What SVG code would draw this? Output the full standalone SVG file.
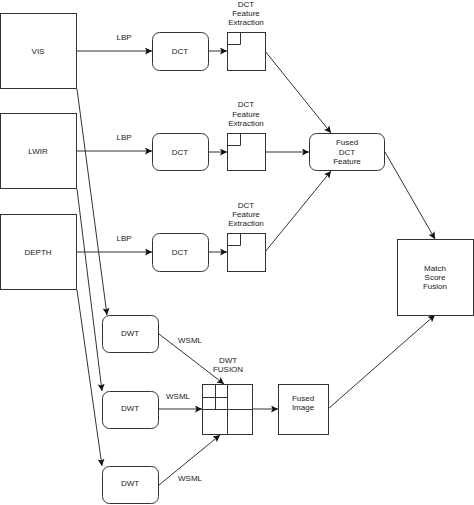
<svg xmlns="http://www.w3.org/2000/svg" width="474" height="505" viewBox="0 0 474 505">
<style>
  .box{fill:#fff;stroke:#333;stroke-width:1}
  .ln{fill:none;stroke:#333;stroke-width:1}
  .t{font-family:"Liberation Sans",Arial,sans-serif;font-size:8px;fill:#222;text-anchor:middle}
</style>
<defs>
  <marker id="ah" markerUnits="userSpaceOnUse" markerWidth="8" markerHeight="8" refX="7" refY="3.5" orient="auto">
    <path d="M0,0 L7,3.5 L0,7 L1.5,3.5 z" fill="#111"/>
  </marker>
</defs>
<rect width="474" height="505" fill="#fff"/>

<g id="connectors">
  <line class="ln" x1="77" y1="51" x2="152" y2="51" marker-end="url(#ah)"/>
  <line class="ln" x1="77" y1="151" x2="152" y2="151" marker-end="url(#ah)"/>
  <line class="ln" x1="77" y1="252" x2="152" y2="252" marker-end="url(#ah)"/>
  <line class="ln" x1="209" y1="51" x2="227" y2="51" marker-end="url(#ah)"/>
  <line class="ln" x1="209" y1="152" x2="227" y2="152" marker-end="url(#ah)"/>
  <line class="ln" x1="209" y1="252" x2="227" y2="252" marker-end="url(#ah)"/>
  <line class="ln" x1="265" y1="51" x2="331" y2="133" marker-end="url(#ah)"/>
  <line class="ln" x1="265" y1="152" x2="309" y2="152" marker-end="url(#ah)"/>
  <line class="ln" x1="265" y1="252" x2="331" y2="171" marker-end="url(#ah)"/>
  <line class="ln" x1="385" y1="152" x2="435" y2="239" marker-end="url(#ah)"/>
  <line class="ln" x1="328" y1="409" x2="435" y2="315" marker-end="url(#ah)"/>
  <line class="ln" x1="77" y1="89" x2="107" y2="315" marker-end="url(#ah)"/>
  <line class="ln" x1="77" y1="189" x2="102" y2="391" marker-end="url(#ah)"/>
  <line class="ln" x1="77" y1="290" x2="102" y2="466" marker-end="url(#ah)"/>
  <line class="ln" x1="159" y1="334" x2="224" y2="384" marker-end="url(#ah)"/>
  <line class="ln" x1="159" y1="409" x2="202" y2="409" marker-end="url(#ah)"/>
  <line class="ln" x1="159" y1="485" x2="220" y2="435" marker-end="url(#ah)"/>
  <line class="ln" x1="253" y1="409" x2="278" y2="409" marker-end="url(#ah)"/>
  <text class="t" x="124" y="40">LBP</text>
  <text class="t" x="124" y="140">LBP</text>
  <text class="t" x="124" y="241">LBP</text>
  <text class="t" x="190" y="343">WSML</text>
  <text class="t" x="178" y="399">WSML</text>
  <text class="t" x="190" y="481">WSML</text>
</g>

<g id="vis"><rect class="box" x="0.5" y="13.5" width="76" height="75"/><text class="t" x="38" y="54">VIS</text></g>
<g id="lwir"><rect class="box" x="0.5" y="113.5" width="76" height="75"/><text class="t" x="38" y="154">LWIR</text></g>
<g id="depth"><rect class="box" x="0.5" y="214.5" width="76" height="75"/><text class="t" x="38" y="255">DEPTH</text></g>

<g id="dct1"><rect class="box" x="152.5" y="32.5" width="56" height="38" rx="7"/><text class="t" x="180" y="54">DCT</text></g>
<g id="dct2"><rect class="box" x="152.5" y="133.5" width="56" height="37" rx="7"/><text class="t" x="180" y="155">DCT</text></g>
<g id="dct3"><rect class="box" x="152.5" y="233.5" width="56" height="38" rx="7"/><text class="t" x="180" y="255">DCT</text></g>

<g id="fe1">
  <rect class="box" x="227.5" y="32.5" width="38" height="38"/>
  <path class="ln" d="M227.5,44.5 H240.5 V32.5"/>
  <text class="t" x="246" y="6.5">DCT</text><text class="t" x="246" y="15.5">Feature</text><text class="t" x="246" y="24.5">Extraction</text>
</g>
<g id="fe2">
  <rect class="box" x="227.5" y="133.5" width="38" height="37"/>
  <path class="ln" d="M227.5,145.5 H240.5 V133.5"/>
  <text class="t" x="246" y="107">DCT</text><text class="t" x="246" y="116.5">Feature</text><text class="t" x="246" y="125.5">Extraction</text>
</g>
<g id="fe3">
  <rect class="box" x="227.5" y="233.5" width="38" height="38"/>
  <path class="ln" d="M227.5,245.5 H240.5 V233.5"/>
  <text class="t" x="246" y="208">DCT</text><text class="t" x="246" y="217">Feature</text><text class="t" x="246" y="226">Extraction</text>
</g>

<g id="fused-dct">
  <rect class="box" x="309.5" y="133.5" width="75" height="37" rx="7"/>
  <text class="t" x="347" y="145">Fused</text><text class="t" x="347" y="154.5">DCT</text><text class="t" x="347" y="163.5">Feature</text>
</g>

<g id="match">
  <rect class="box" x="397.5" y="239.5" width="76" height="76"/>
  <text class="t" x="435" y="271">Match</text><text class="t" x="435" y="280">Score</text><text class="t" x="435" y="289">Fusion</text>
</g>

<g id="dwt1"><rect class="box" x="102.5" y="315.5" width="56" height="37" rx="7"/><text class="t" x="130" y="336">DWT</text></g>
<g id="dwt2"><rect class="box" x="102.5" y="391.5" width="56" height="37" rx="7"/><text class="t" x="130" y="411">DWT</text></g>
<g id="dwt3"><rect class="box" x="102.5" y="466.5" width="56" height="37" rx="7"/><text class="t" x="130" y="486">DWT</text></g>

<g id="dwt-fusion">
  <rect class="box" x="202.5" y="384.5" width="50" height="50"/>
  <path class="ln" d="M227.5,384.5 V434.5 M202.5,409.5 H252.5 M215.5,384.5 V409.5 M202.5,397.5 H227.5"/>
  <text class="t" x="228" y="363">DWT</text><text class="t" x="228" y="372">FUSION</text>
</g>

<g id="fused-image">
  <rect class="box" x="278.5" y="384.5" width="50" height="50"/>
  <text class="t" x="303" y="401">Fused</text><text class="t" x="303" y="410">Image</text>
</g>
</svg>
